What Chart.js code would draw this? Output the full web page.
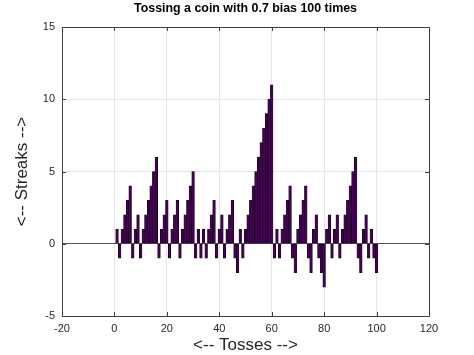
<!DOCTYPE html>
<html><head><meta charset="utf-8">
<script src="https://cdn.jsdelivr.net/npm/chart.js@4.4.1/dist/chart.umd.min.js"></script>
<style>html,body{margin:0;padding:0;background:#fff;}canvas{display:block;}</style>
</head><body>
<canvas id="c" width="474" height="355"></canvas>
<script>
const chartTitle = 'Tossing a coin with 0.7 bias 100 times';
const xLabel = '<-- Tosses -->';
const yLabel = '<-- Streaks -->';
const tosses = [1,2,3,4,5,6,7,8,9,10,11,12,13,14,15,16,17,18,19,20,
  21,22,23,24,25,26,27,28,29,30,31,32,33,34,35,36,37,38,39,40,
  41,42,43,44,45,46,47,48,49,50,51,52,53,54,55,56,57,58,59,60,
  61,62,63,64,65,66,67,68,69,70,71,72,73,74,75,76,77,78,79,80,
  81,82,83,84,85,86,87,88,89,90,91,92,93,94,95,96,97,98,99,100];
const streaks = [1,-1,1,2,3,4,-1,1,2,-1,1,2,3,4,5,6,-1,1,2,3,
  -1,1,2,3,-1,1,2,3,4,5,-1,1,-1,1,-1,1,2,3,-1,1,
  2,-1,1,2,3,-1,-2,1,-1,1,2,3,4,5,6,7,8,9,10,11,
  -1,1,-1,1,2,3,4,-1,-2,1,2,3,4,-1,-2,1,2,-1,-2,-3,
  1,2,-1,1,2,-1,1,2,3,4,5,6,-1,-2,1,2,-1,1,-1,-2];
const xTickValues = [-20,0,20,40,60,80,100,120];
const yTickValues = [-5,0,5,10,15];

const FONT = 'Liberation Sans, Arial, Helvetica, sans-serif';
const TEXT = '#262626';
const AXIS = '#404040';

const points = tosses.map((t, i) => ({x: t, y: streaks[i]}));
const titleFont = {family: FONT, size: 12.4, weight: 'bold', lineHeight: 1.2};
const titlePad = {top: 1, bottom: 0};
const titleHeight = titlePad.top + titlePad.bottom + titleFont.size * titleFont.lineHeight;

const setTicks = (vals) => (scale) => { scale.ticks = vals.map(v => ({value: v})); };

const innerTicks = {
  id: 'innerTicks',
  afterDraw(chart) {
    const {ctx, chartArea: a, scales: {x, y}} = chart;
    ctx.save();
    ctx.strokeStyle = AXIS;
    ctx.lineWidth = 1;
    ctx.beginPath();
    x.ticks.forEach(t => {
      const p = Math.round(x.getPixelForValue(t.value)) + 0.5;
      ctx.moveTo(p, a.bottom); ctx.lineTo(p, a.bottom - 4);
      ctx.moveTo(p, a.top); ctx.lineTo(p, a.top + 4);
    });
    y.ticks.forEach(t => {
      const p = Math.round(y.getPixelForValue(t.value)) + 0.5;
      ctx.moveTo(a.left, p); ctx.lineTo(a.left + 4, p);
      ctx.moveTo(a.right, p); ctx.lineTo(a.right - 4, p);
    });
    ctx.stroke();
    ctx.restore();
  }
};

new Chart(document.getElementById('c'), {
  type: 'bar',
  data: {
    datasets: [{
      data: points,
      backgroundColor: '#440154',
      borderColor: '#000000',
      borderWidth: 0.5,
      borderSkipped: false,
      barPercentage: 1,
      categoryPercentage: 1
    }]
  },
  options: {
    responsive: false,
    animation: false,
    devicePixelRatio: 1,
    layout: {padding: 0},
    plugins: {
      legend: {display: false},
      tooltip: {enabled: false},
      title: {
        display: true, text: chartTitle, color: '#000',
        font: titleFont, padding: titlePad, fullSize: false
      }
    },
    scales: {
      x: {
        type: 'linear', position: 'bottom', min: -20, max: 120, offset: false,
        afterBuildTicks: setTicks(xTickValues),
        afterFit: (s) => { s.height = 39; },
        ticks: {color: TEXT, font: {family: FONT, size: 11}, padding: 6.5, maxRotation: 0},
        grid: {color: '#e6e6e6', drawTicks: false, offset: false},
        border: {display: true, color: AXIS, width: 1},
        title: {display: true, text: xLabel, color: TEXT,
          font: {family: FONT, size: 17, lineHeight: 1}, padding: {top: 0, bottom: 1}}
      },
      x2: {
        type: 'linear', position: 'top', min: -20, max: 120, offset: false,
        afterFit: (s) => { s.height = 27 - titleHeight; },
        ticks: {display: false},
        grid: {display: false, drawTicks: false},
        border: {display: true, color: AXIS, width: 1}
      },
      y: {
        type: 'linear', position: 'left', min: -5, max: 15,
        afterBuildTicks: setTicks(yTickValues),
        afterFit: (s) => { s.width = 62; },
        ticks: {color: TEXT, font: {family: FONT, size: 11}, padding: 7},
        grid: {
          color: (c) => (c.tick && c.tick.value === 0) ? '#555555' : '#e6e6e6',
          drawTicks: false
        },
        border: {display: true, color: AXIS, width: 1},
        title: {display: true, text: yLabel, color: TEXT,
          font: {family: FONT, size: 17, lineHeight: 1}, padding: {top: 13.5, bottom: 0}}
      },
      y2: {
        type: 'linear', position: 'right', min: -5, max: 15,
        afterFit: (s) => { s.width = 45; },
        ticks: {display: false},
        grid: {display: false, drawTicks: false},
        border: {display: true, color: AXIS, width: 1}
      }
    }
  },
  plugins: [innerTicks]
});
</script>
</body></html>
